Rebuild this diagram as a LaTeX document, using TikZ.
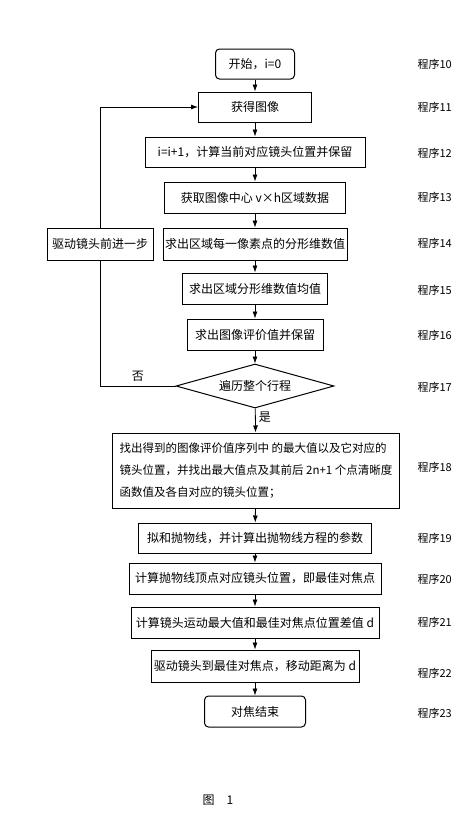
\documentclass[tikz,border=0pt]{standalone}
\usepackage{fontspec}
\setmainfont{Noto Sans CJK SC}
\usetikzlibrary{positioning, arrows.meta, shapes.geometric}

\begin{document}
\begin{tikzpicture}[x=1pt, y=-1pt,
  font=\fontsize{12}{14}\selectfont,
  box/.style={draw, line width=1pt, minimum height=30pt, inner sep=2pt},
  term/.style={box, rounded corners=4pt},
  decide/.style={draw, line width=1pt, diamond, aspect=3.6, minimum width=158pt, minimum height=44pt, inner sep=1pt},
  prog/.style={anchor=west, font=\fontsize{11}{13}\selectfont},
  flow/.style={line width=0.8pt, -{Latex[length=7pt, width=5pt]}},
  link/.style={line width=0.8pt}]
  \useasboundingbox (0,0) rectangle (474,827);
  % main column
  \node[term, minimum width=79pt] (start) at (255,64) {开始，i=0};
  \node[box, minimum width=113pt] (b11) at (255,107) {获得图像};
  \node[box, minimum width=220pt] (b12) at (255,152) {i=i+1，计算当前对应镜头位置并保留};
  \node[box, minimum width=181pt, minimum height=31pt] (b13) at (255,197.5) {获取图像中心 v×h区域数据};
  \node[box, minimum width=182pt, minimum height=32pt] (b14) at (255,244) {求出区域每一像素点的分形维数值};
  \node[box, minimum width=145pt, minimum height=31pt] (b15) at (255,288.5) {求出区域分形维数值均值};
  \node[box, minimum width=136pt, minimum height=31pt] (b16) at (255,334.5) {求出图像评价值并保留};
  \node[decide] (dia) at (255,386) {遍历整个行程};
  % loop back
  \node[box, minimum width=106pt, minimum height=32pt, left=9pt of b14] (drive) {驱动镜头前进一步};
  % result part
  \node[box, minimum width=287pt, minimum height=75pt, align=left, font=\fontsize{11.5}{22}\selectfont] (b18) at (256,470.5)
    {找出得到的图像评价值序列中 的最大值以及它对应的\\镜头位置，并找出最大值点及其前后 2n+1 个点清晰度\\函数值及各自对应的镜头位置；};
  \node[box, minimum width=233pt] (b19) at (255,538) {拟和抛物线，并计算出抛物线方程的参数};
  \node[box, minimum width=252pt, minimum height=31pt] (b20) at (255,578.5) {计算抛物线顶点对应镜头位置，即最佳对焦点};
  \node[box, minimum width=248pt, minimum height=31pt] (b21) at (255,622.5) {计算镜头运动最大值和最佳对焦点位置差值 d};
  \node[box, minimum width=208pt, minimum height=32pt] (b22) at (255,666) {驱动镜头到最佳对焦点，移动距离为 d};
  \node[term, minimum width=101pt, minimum height=31pt] (end) at (255,711.5) {对焦结束};
  % arrows
  \foreach \a/\b in {start/b11, b11/b12, b12/b13, b13/b14, b14/b15, b15/b16, b16/dia, b18/b19, b19/b20, b20/b21, b21/b22, b22/end}
    \draw[flow] (\a) -- (\b);
  \draw[flow] (dia) -- (b18) node[pos=0.36, right, inner sep=3pt] {是};
  \draw[link] (dia.west) -| (drive) node[pos=0.25, above, inner sep=4pt] {否};
  \draw[flow] (drive) |- (b11.west);
  % step labels
  \foreach \n/\y in {10/64, 11/107, 12/153, 13/197, 14/243, 15/290, 16/335, 17/387, 18/467, 19/538, 20/579, 21/622, 22/673, 23/713}
    \node[prog] (p\n) at (414,\y) {程序\n};
  \node (cap) at (218,800) {图\quad 1};
\end{tikzpicture}
\end{document}
